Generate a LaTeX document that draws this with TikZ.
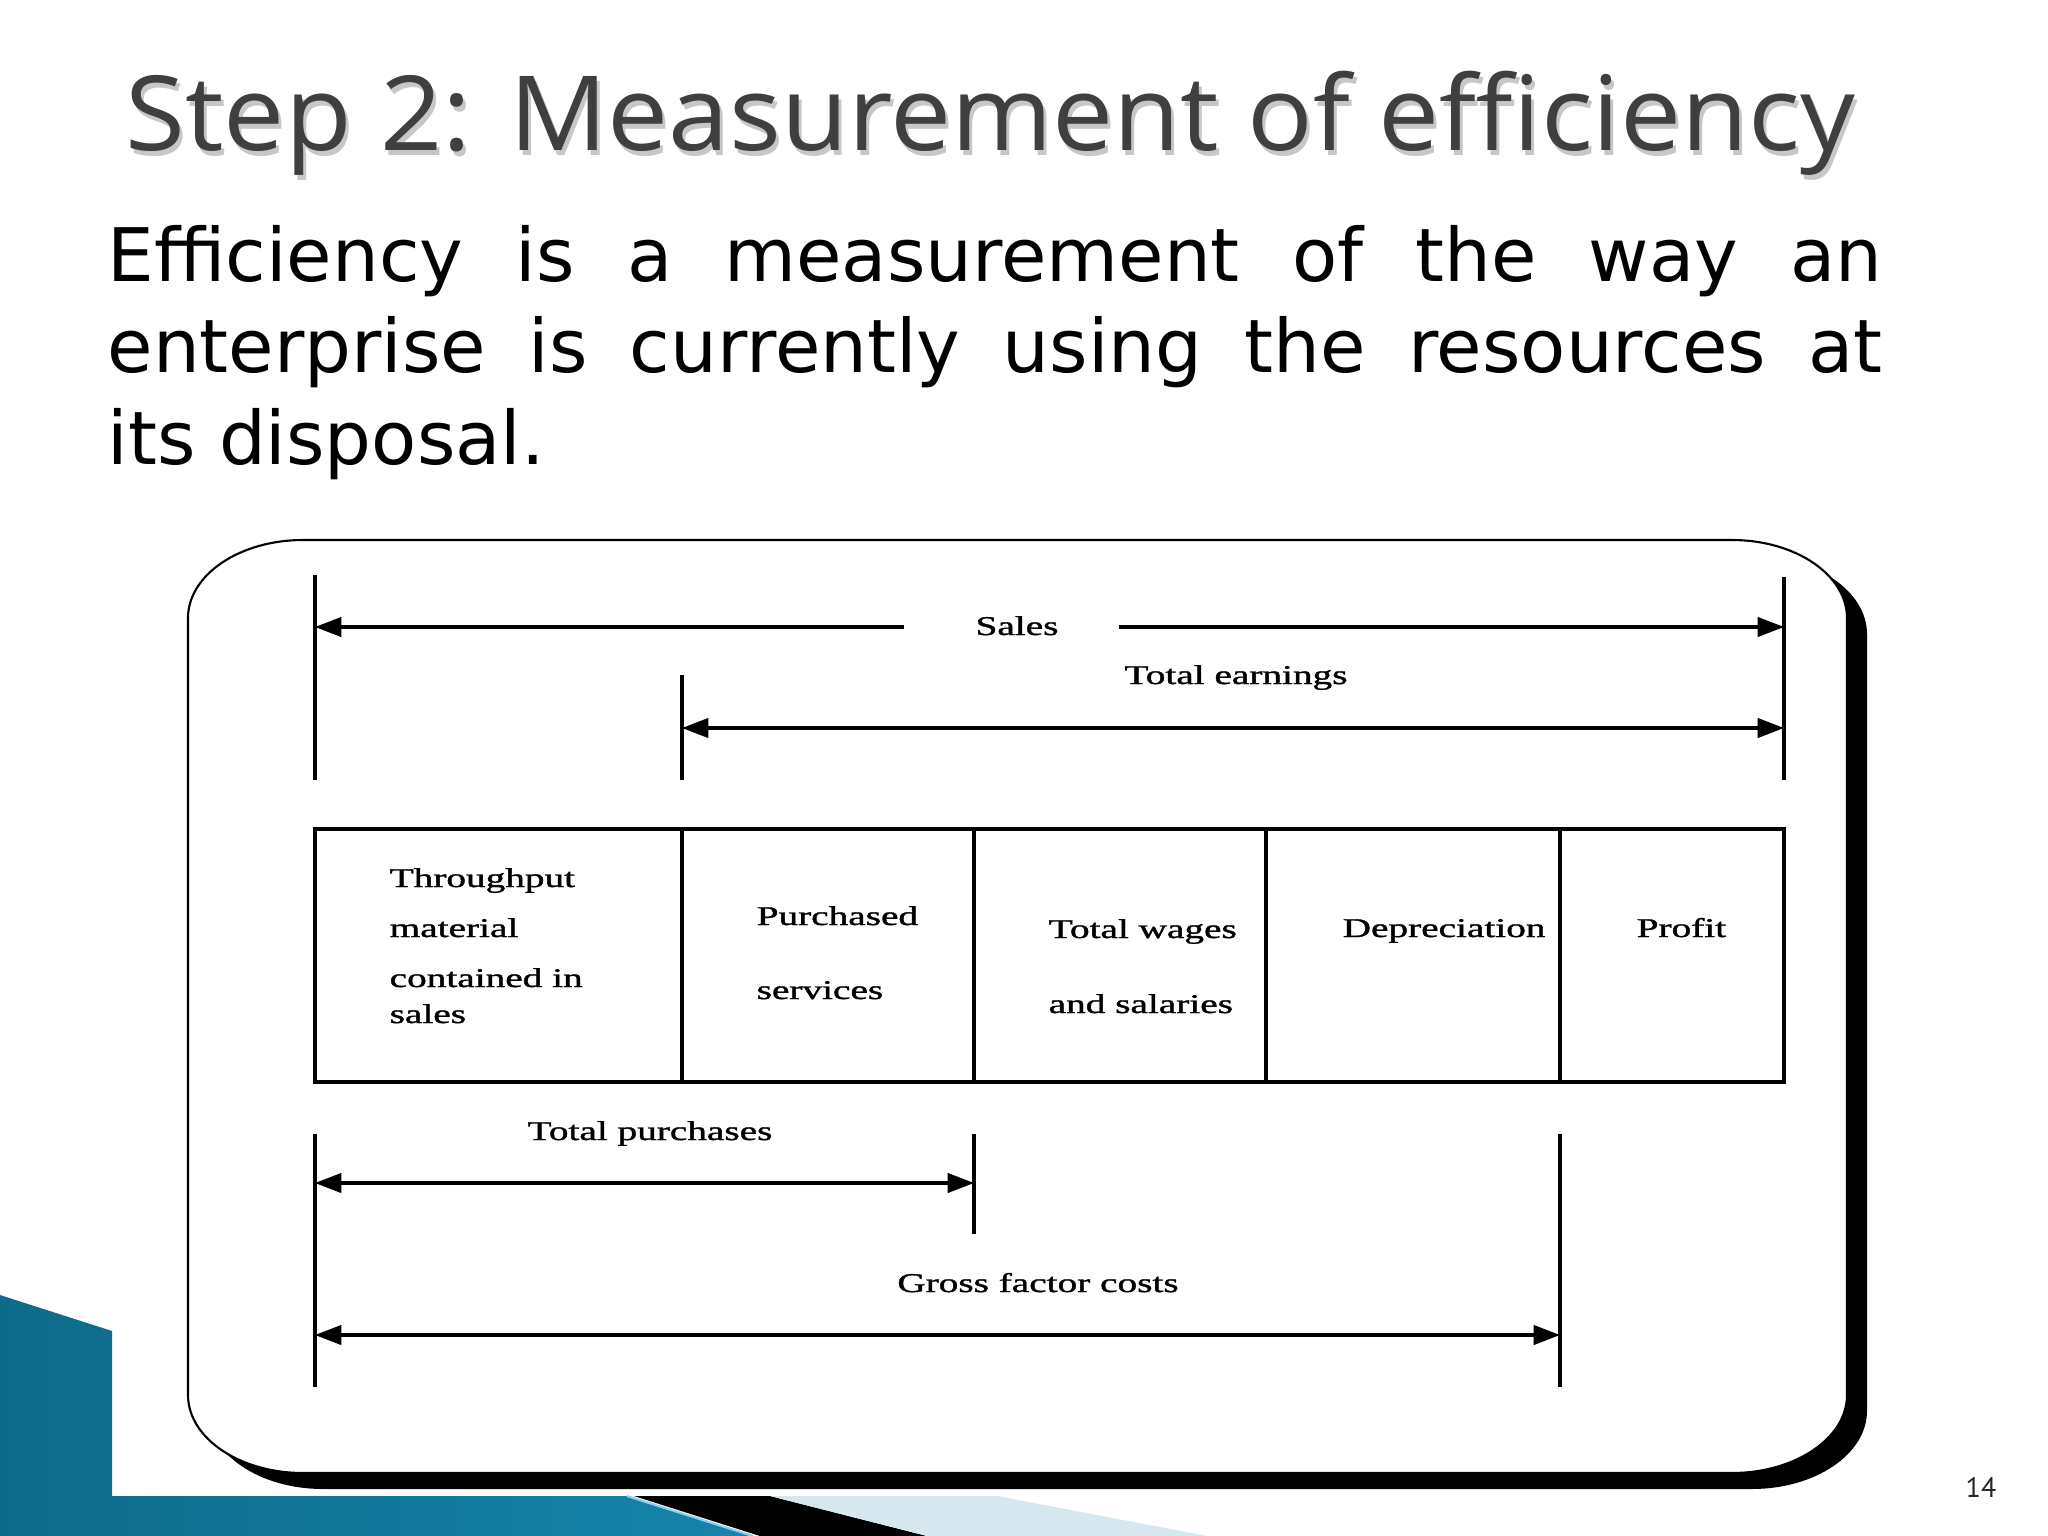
\documentclass[tikz,border=0pt]{standalone}
\usepackage{fontspec}
\usepackage{graphicx}
\setmainfont{DejaVu Sans}
\newfontfamily\titlefont{Open Sans}
\newfontfamily\bodyfont{DejaVu Sans}
\newfontfamily\figfont{Liberation Serif}[FakeBold=1.1]
\newfontfamily\numfont{PT Sans}
\usetikzlibrary{arrows.meta}
\definecolor{titlegray}{HTML}{3F3F3F}
\definecolor{tealdark}{HTML}{0E6A89}
\definecolor{teallight}{HTML}{4BB1D6}
\definecolor{tealmid}{HTML}{1685AC}
\definecolor{paleblue}{HTML}{D6E7F0}
\newcommand{\sx}[1]{\scalebox{1.45}[1]{#1}}
\newcommand{\tx}[1]{\scalebox{1.05}[1]{#1}}
\tikzset{
  body/.style={anchor=base west, inner sep=0, font=\bodyfont\fontsize{21}{25}\selectfont},
  lbl/.style={anchor=base, inner sep=0, font=\figfont\fontsize{7.7}{9}\selectfont},
  lblw/.style={anchor=base west, inner sep=0, font=\figfont\fontsize{7.7}{9}\selectfont},
  tickline/.style={line width=1.1pt, line cap=butt},
  dimline/.style={line width=0.9pt},
  tipl/.style={{Triangle[length=7.5pt,width=5.5pt]}-},
  tipr/.style={-{Triangle[length=7.5pt,width=5.5pt]}},
  tipb/.style={{Triangle[length=7.5pt,width=5.5pt]}-{Triangle[length=7.5pt,width=5.5pt]}},
  cell/.style={draw, line width=1pt, inner sep=0, minimum height=2.53cm},
}
\begin{document}
\begin{tikzpicture}[x=0.01cm, y=-0.01cm]
\useasboundingbox (0,0) rectangle (2048,1536);
\fill[white] (0,0) rectangle (2048,1536);

% title
\node[anchor=base west, inner sep=0, text=black!22, font=\titlefont\fontsize{29.5}{32}\selectfont] (titleshadow) at (128,155) {\tx{Step 2: Measurement of efficiency}};
\node[anchor=base west, inner sep=0, text=titlegray, font=\titlefont\fontsize{29.5}{32}\selectfont] (title) at (125,150) {\tx{Step 2: Measurement of efficiency}};

% body
\node[body] (b1) at (107,281) {\makebox[504.7pt][s]{Efficiency is a measurement of the way an}};
\node[body] (b2) at (107,372) {\makebox[504.7pt][s]{enterprise is currently using the resources at}};
\node[body] (b3) at (107,464) {its disposal.};

% bottom-left decoration
\shade[left color=tealdark, middle color=teallight, right color=tealmid]
  (0,1295) -- (112,1331) -- (112,1496) -- (627,1496) -- (753,1536) -- (0,1536) -- cycle;
\fill[black] (634,1496) -- (770,1496) -- (927,1536) -- (760,1536) -- cycle;
\draw[teallight!60, line width=0.6pt] (627,1496) -- (753,1536);
\fill[paleblue] (770,1496) -- (997,1496) -- (1207,1536) -- (927,1536) -- cycle;

% outer frame with shadow
\begin{scope}[shift={(20,16)}]
\fill[black] (303,540) -- (1732,540) .. controls (1795.5,540) and (1847,575) .. (1847,618) -- (1847,1395) .. controls (1847,1438) and (1795.5,1473) .. (1732,1473) -- (303,1473) .. controls (239.5,1473) and (188,1438) .. (188,1395) -- (188,618) .. controls (188,575) and (239.5,540) .. cycle;
\end{scope}
\filldraw[fill=white, draw=black, line width=0.6pt] (303,540) -- (1732,540) .. controls (1795.5,540) and (1847,575) .. (1847,618) -- (1847,1395) .. controls (1847,1438) and (1795.5,1473) .. (1732,1473) -- (303,1473) .. controls (239.5,1473) and (188,1438) .. (188,1395) -- (188,618) .. controls (188,575) and (239.5,540) .. cycle;

% top dimension ticks
\coordinate (tLt) at (315,575);  \coordinate (tLb) at (315,780);
\coordinate (tRt) at (1784,577); \coordinate (tRb) at (1784,780);
\coordinate (tMt) at (682,675);  \coordinate (tMb) at (682,780);
\draw[tickline] (tLt) -- (tLb);
\draw[tickline] (tRt) -- (tRb);
\draw[tickline] (tMt) -- (tMb);

% Sales
\coordinate (sA) at (315,627);  \coordinate (sB) at (904,627);
\coordinate (sC) at (1119,627); \coordinate (sD) at (1784,627);
\draw[dimline, tipl] (sA) -- (sB);
\draw[dimline, tipr] (sC) -- (sD);
\node[lbl] (sales) at (1017,635) {\sx{Sales}};

% Total earnings
\coordinate (eA) at (682,728); \coordinate (eB) at (1784,728);
\draw[dimline, tipb] (eA) -- (eB);
\node[lbl] (earn) at (1236,684) {\sx{Total earnings}};

% table cells
\node[cell, minimum width=3.67cm] (c1) at (498.5,955.5) {};
\node[cell, minimum width=2.92cm] (c2) at (828,955.5) {};
\node[cell, minimum width=2.92cm] (c3) at (1120,955.5) {};
\node[cell, minimum width=2.94cm] (c4) at (1413,955.5) {};
\node[cell, minimum width=2.24cm] (c5) at (1672,955.5) {};

\node[lblw] (c1a) at (389,887) {\sx{Throughput}};
\node[lblw] (c1b) at (389,937) {\sx{material}};
\node[lblw] (c1c) at (389,987) {\sx{contained in}};
\node[lblw] (c1d) at (389,1023) {\sx{sales}};
\node[lblw] (c2a) at (756,925) {\sx{Purchased}};
\node[lblw] (c2b) at (756,999) {\sx{services}};
\node[lblw] (c3a) at (1048,938) {\sx{Total wages}};
\node[lblw] (c3b) at (1048,1013) {\sx{and salaries}};
\node[lblw] (c4a) at (1342,937) {\sx{Depreciation}};
\node[lblw] (c5a) at (1636,937) {\sx{Profit}};

% bottom ticks
\coordinate (bLt) at (315,1134);  \coordinate (bLb) at (315,1387);
\coordinate (bMt) at (974,1134);  \coordinate (bMb) at (974,1234);
\coordinate (bRt) at (1560,1134); \coordinate (bRb) at (1560,1387);
\draw[tickline] (bLt) -- (bLb);
\draw[tickline] (bMt) -- (bMb);
\draw[tickline] (bRt) -- (bRb);

% Total purchases
\coordinate (pA) at (315,1183); \coordinate (pB) at (974,1183);
\draw[dimline, tipb] (pA) -- (pB);
\node[lbl] (purch) at (650,1140) {\sx{Total purchases}};

% Gross factor costs
\coordinate (gA) at (315,1335); \coordinate (gB) at (1560,1335);
\draw[dimline, tipb] (gA) -- (gB);
\node[lbl] (gross) at (1038,1292) {\sx{Gross factor costs}};

% page number
\node[anchor=base, inner sep=0, font=\numfont\fontsize{8}{9}\selectfont, text=black!85] (pnum) at (1981,1497) {14};
\end{tikzpicture}
\end{document}
